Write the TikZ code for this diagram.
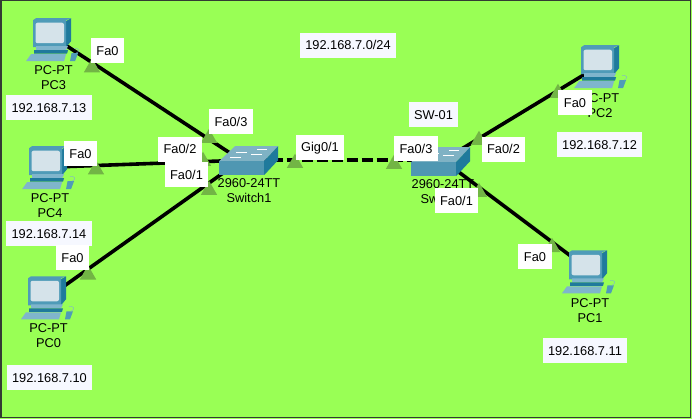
\documentclass[tikz,border=0pt]{standalone}
\usepackage{fontspec}
\setmainfont{Liberation Sans}
\usepackage{xcolor}
\usetikzlibrary{shapes.geometric,positioning}
\definecolor{desk}{HTML}{99FF55}
\definecolor{edge}{HTML}{333B33}
\definecolor{portgreen}{HTML}{72B545}
\definecolor{note}{HTML}{F6F8FF}
\definecolor{pcfront}{HTML}{4F9BB8}
\definecolor{pcside}{HTML}{1F7A9C}
\definecolor{pcscreen}{HTML}{D5E3EA}
\definecolor{pckeys}{HTML}{7FB5CC}
\definecolor{swtop}{HTML}{7FB2C4}
\definecolor{swfront}{HTML}{4F97B2}
\definecolor{swside}{HTML}{1F7A9C}

\begin{document}
\begin{tikzpicture}[
  x=1pt, y=-1pt,
  hub/.style={inner sep=0pt, minimum size=1pt},
  devtxt/.style={align=center, font=\fontsize{12.8}{15}\selectfont, inner sep=0pt},
  tag/.style={fill=white, font=\fontsize{12.8}{15}\selectfont, inner xsep=5.5pt, inner ysep=0pt,
              minimum height=25pt},
  iptag/.style={tag, fill=note},
  port/.style={regular polygon, regular polygon sides=3, fill=portgreen, inner sep=0pt,
               minimum size=19pt},
  cable/.style={line width=3.6pt, black},
  pcicon/.pic={
    \fill[pcside] (33,3) -- (38,0) -- (38,23) -- (33,29) -- cycle;
    \fill[pcfront] (0,2) -- (3,0) -- (38,0) -- (33,2) -- (33,29) -- (0,29) -- cycle;
    \fill[pcscreen, rounded corners=2pt] (2.5,4.5) rectangle (31,25);
    \fill[pckeys] (3,28) -- (35,28) -- (33,32) -- (3,32) -- cycle;
    \fill[pcside] (1,32) -- (35,32) -- (34,35.5) -- (1,35.5) -- cycle;
    \fill[pckeys] (-2,36) -- (33,36) -- (31,43) -- (-7,43) -- cycle;
    \fill[pcfront] (38.5,35) -- (45,35) -- (42,43) -- (37,43) -- cycle;
    \draw[pckeys, thin] (43,35) .. controls (47,33) and (47,30) .. (41,30);
  },
  swicon/.pic={
    \fill[swtop] (0,15) -- (16,0) -- (59,0) -- (45,15) -- cycle;
    \fill[swfront] (0,15) rectangle (45,29);
    \fill[swside] (45,15) -- (59,0) -- (59,14) -- (45,29) -- cycle;
    \draw[white, thin] (11,11) -- (22,11) (17,6) -- (28,6) (32,8) -- (43,8) (38,3) -- (48,3);
  }]
\fill[desk] (0,0) rectangle (692,419);
\draw[edge, line width=1.5pt] (1,0.5) rectangle (690.5,417);

\node[hub] (pc3) at (52,36) {};
\node[hub] (pc4) at (48,167) {};
\node[hub] (pc0) at (47,298) {};
\node[hub] (pc2) at (598,66) {};
\node[hub] (pc1) at (587,268) {};
\node[hub] (sw1) at (241,160) {};
\node[hub] (sw0) at (443,160) {};

\draw[cable] (pc3) -- (sw1);
\draw[cable] (pc4) -- (sw1);
\draw[cable] (pc0) -- (sw1);
\draw[cable] (pc2) -- (sw0);
\draw[cable] (pc1) -- (sw0);
\draw[cable, dash pattern=on 11pt off 4pt] (sw1) -- (sw0);

\node[port] (p3) at (92,67.5) {};
\node[port] (p4) at (96,169.5) {};
\node[port] (p0) at (88,274.5) {};
\node[port] (s3) at (209,138) {};
\node[port] (s2) at (203,161) {};
\node[port] (s1) at (209,190) {};
\node[port] (g1) at (295,163) {};
\node[port] (g2) at (394,164) {};
\node[port] (r2) at (479,140) {};
\node[port] (r1) at (479,192) {};
\node[port] (p2) at (558,93) {};
\node[port] (p1) at (552,247) {};

\pic at (33,18) {pcicon};
\pic at (29,146) {pcicon};
\pic at (28,276) {pcicon};
\pic at (581,45) {pcicon};
\pic at (569,250) {pcicon};
\pic at (219,146) {swicon};
\pic at (411,147) {swicon};

\node[devtxt] (pc3t) at (53.5,77.5) {PC-PT\\PC3};
\node[devtxt] (pc4t) at (50,205) {PC-PT\\PC4};
\node[devtxt] (pc0t) at (48.5,335.5) {PC-PT\\PC0};
\node[devtxt] (pc2t) at (600,105.5) {PC-PT\\PC2};
\node[devtxt] (pc1t) at (590,310.5) {PC-PT\\PC1};
\node[devtxt] (sw1t) at (249,190.5) {2960-24TT\\Switch1};
\node[devtxt] (sw0t) at (443,191.5) {2960-24TT\\Switch0};

\node[iptag] (ip3) at (49,107.5) {192.168.7.13};
\node[iptag] (ip4) at (49,233.5) {192.168.7.14};
\node[iptag] (ip0) at (49.5,377.5) {192.168.7.10};
\node[iptag] (ip2) at (599.5,144.5) {192.168.7.12};
\node[iptag] (ip1) at (585,350.5) {192.168.7.11};
\node[iptag] (net) at (348,45) {192.168.7.0/24};
\node[iptag] (name) at (433.5,114.5) {SW-01};

\node[tag] (f3) at (107.5,50.5) {Fa0};
\node[tag] (f4) at (80.5,153.5) {Fa0};
\node[tag] (f0) at (72.5,257.5) {Fa0};
\node[tag] (f2) at (575,102.5) {Fa0};
\node[tag] (f1) at (535,256.5) {Fa0};
\node[tag] (l2) at (180,149) {Fa0/2};
\node[tag] (l1) at (186.5,174.5) {Fa0/1};
\node[tag] (l3) at (231,121.5) {Fa0/3};
\node[tag] (gi) at (320,147.5) {Gig0/1};
\node[tag] (m3) at (416,148.5) {Fa0/3};
\node[tag] (m2) at (503.5,149) {Fa0/2};
\node[tag] (m1) at (456.5,200.5) {Fa0/1};
\end{tikzpicture}
\end{document}
